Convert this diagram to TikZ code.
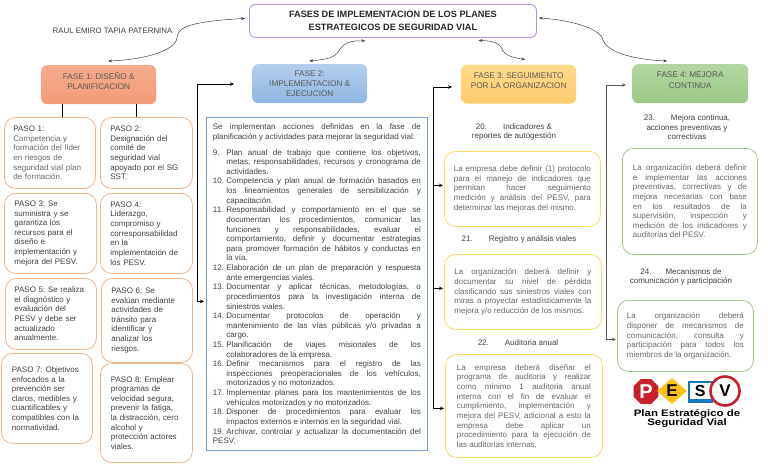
\documentclass[tikz,border=0pt]{standalone}
\usepackage{fontspec}
\setmainfont{Liberation Sans}
\newfontfamily\logofont[FakeStretch=1.22]{Liberation Sans}
\usetikzlibrary{arrows.meta,shapes.geometric}
\definecolor{titleline}{HTML}{B98FE0}
\definecolor{pasoline}{HTML}{F2B48A}
\definecolor{listline}{HTML}{7C9CCB}
\definecolor{amberline}{HTML}{FFD966}
\definecolor{greenline}{HTML}{9CCB86}
\definecolor{bodygray}{HTML}{404040}
\definecolor{softgray}{HTML}{666666}
\definecolor{railgray}{HTML}{595959}
\definecolor{signred}{HTML}{C8202A}
\definecolor{signyellow}{HTML}{FFC20E}
\definecolor{signblue}{HTML}{1277BE}
\definecolor{faseAtop}{HTML}{F5AC8C}
\definecolor{faseAbot}{HTML}{F39B78}
\definecolor{faseBtop}{HTML}{B4CFEE}
\definecolor{faseBbot}{HTML}{8FB6E2}
\definecolor{faseCtop}{HTML}{FFDA8C}
\definecolor{faseCbot}{HTML}{FFCB6B}
\definecolor{faseDtop}{HTML}{B2D6A0}
\definecolor{faseDbot}{HTML}{9CC987}
\sloppy
\frenchspacing
\hyphenpenalty=10000
\tikzset{
  txt/.style={font=\fontsize{8}{9.62}\selectfont,inner sep=0pt},
  fasebox/.style={anchor=north west,rounded corners=6pt,minimum width=115pt,minimum height=39pt,
    inner sep=0pt,align=center,text=railgray,font=\fontsize{8.2}{10.4}\selectfont},
  cardbox/.style n args={3}{txt,draw,anchor=north west,line width=0.8pt,rounded corners=11pt,
    minimum width=#1pt,minimum height=#2pt,text width=#3pt},
  pasobox/.style={draw=pasoline,text=bodygray,align=left},
  ambox/.style={draw=amberline,text=softgray,align=justify},
  grbox/.style={draw=greenline,text=softgray,align=justify},
  headtxt/.style={txt,align=center,text=bodygray},
  swing/.style={black!75,line width=0.5pt,{Stealth[length=4pt,width=3pt]}-{Stealth[length=4pt,width=3pt]}},
  rail/.style={line width=1pt,-{Stealth[length=4pt,width=3.5pt]}},
}
\newcommand{\numitem}[2]{\par\hangindent=13.5pt\hangafter=1\noindent\makebox[13.5pt][l]{#1}#2}
\begin{document}
\begin{tikzpicture}[x=1pt,y=-1pt]
  \useasboundingbox (0,0) rectangle (768,466);
  % title and phases
  \node[draw=titleline,line width=0.9pt,rounded corners=6pt,anchor=north west,minimum width=287pt,
    minimum height=33pt,inner sep=0pt,align=center,font=\fontsize{9.2}{12.3}\selectfont\bfseries,text=black!85]
    (title) at (249,4) {FASES DE IMPLEMENTACION DE LOS PLANES\\ESTRATEGICOS DE SEGURIDAD VIAL};
  \node[txt,text=bodygray,font=\fontsize{7.9}{9}\selectfont] (autor) at (112.5,31) {RAUL EMIRO TAPIA PATERNINA};
  \node[fasebox,top color=faseAtop,bottom color=faseAbot] (fase1) at (41,65) {FASE 1: DISEÑO \&\\PLANIFICACION\\[-3pt]~};
  \node[fasebox,top color=faseBtop,bottom color=faseBbot] (fase2) at (252,64) {FASE 2:\\IMPLEMENTACION \&\\EJECUCION};
  \node[fasebox,top color=faseCtop,bottom color=faseCbot] (fase3) at (461,64.5) {FASE 3: SEGUIMIENTO\\POR LA ORGANIZACION\\[-3pt]~};
  \node[fasebox,top color=faseDtop,bottom color=faseDbot,minimum width=116pt] (fase4) at (632,64) {FASE 4: MEJORA\\CONTINUA\\[-3pt]~};
  % steps of phase 1
  \node[cardbox={91}{71}{73},pasobox,text=softgray] (paso1) at (4,117) {\textcolor{bodygray}{PASO 1:}\\Competencia y\\formación del líder\\en riesgos de\\seguridad vial plan\\de formación.};
  \node[cardbox={92}{71}{72},pasobox] (paso2) at (100,117) {PASO 2:\\Designación del\\comité de\\seguridad vial\\apoyado por el SG\\SST.};
  \node[cardbox={92}{80}{72},pasobox] (paso3) at (4,193) {PASO 3: Se\\suministra y se\\garantiza los\\recursos para el\\diseño e\\implementación y\\mejora del PESV.};
  \node[cardbox={92}{80}{72},pasobox] (paso4) at (100,193) {PASO 4:\\Liderazgo,\\compromiso y\\corresponsabilidad\\en la\\implementación de\\los PESV.};
  \node[cardbox={91}{71}{73},pasobox] (paso5) at (5,278) {PASO 5: Se realiza\\el diagnóstico y\\evaluación del\\PESV y debe ser\\actualizado\\anualmente.};
  \node[cardbox={91}{84}{71},pasobox] (paso6) at (101,278) {PASO 6: Se\\evalúan mediante\\actividades de\\tránsito para\\identificar y\\analizar los\\riesgos.};
  \node[cardbox={91}{90}{70},pasobox] (paso7) at (1,353) {PASO 7: Objetivos\\enfocados a la\\prevención ser\\claros, medibles y\\cuantificables y\\compatibles con la\\normatividad.};
  \node[cardbox={92}{99}{71},pasobox] (paso8) at (100,363) {PASO 8: Emplear\\programas de\\velocidad segura,\\prevenir la fatiga,\\la distracción, cero\\alcohol y\\protección actores\\viales.};
  % actions of phase 2
  \node[cardbox={221}{333}{208},draw=listline,rounded corners=0pt,text=bodygray,align=justify] (acciones) at (206,117) {%
    Se implementan acciones definidas en la fase de\linebreak planificación y actividades para mejorar la seguridad vial:\par\vspace{6pt}
    \numitem{9.}{Plan anual de trabajo que contiene los objetivos,\linebreak metas, responsabilidades, recursos y cronograma de\linebreak actividades.}
    \numitem{10.}{Competencia y plan anual de formación basados en\linebreak los lineamientos generales de sensibilización y\linebreak capacitación.}
    \numitem{11.}{Responsabilidad y comportamiento en el que se\linebreak documentan los procedimientos, comunicar las\linebreak funciones y responsabilidades, evaluar el\linebreak comportamiento, definir y documentar estrategias\linebreak para promover formación de hábitos y conductas en\linebreak la vía.}
    \numitem{12.}{Elaboración de un plan de preparación y respuesta\linebreak ante emergencias viales.}
    \numitem{13.}{Documentar y aplicar técnicas, metodologías, o\linebreak procedimientos para la investigación interna de\linebreak siniestros viales.}
    \numitem{14.}{Documentar protocolos de operación y\linebreak mantenimiento de las vías públicas y/o privadas a\linebreak cargo.}
    \numitem{15.}{Planificación de viajes misionales de los\linebreak colaboradores de la empresa.}
    \numitem{16.}{Definir mecanismos para el registro de las\linebreak inspecciones preoperacionales de los vehículos,\linebreak motorizados y no motorizados.}
    \numitem{17.}{Implementar planes para los mantenimientos de los\linebreak vehículos motorizados y no motorizados.}
    \numitem{18.}{Disponer de procedimientos para evaluar los\linebreak \mbox{impactos externos e internos en la seguridad vial.}}
    \numitem{19.}{Archivar, controlar y actualizar la documentación del\linebreak PESV.}};
  % follow-up of phase 3
  \node[headtxt] (head20) at (514,132) {20.\hspace{16pt}Indicadores \&\\reportes de autogestión};
  \node[cardbox={156}{75}{137},ambox] (caja20) at (444,151) {La empresa debe definir (1) protocolo\linebreak para el manejo de indicadores que\linebreak permitan hacer seguimiento\linebreak medición y análisis del PESV, para\linebreak determinar las mejoras del mismo.};
  \node[headtxt] (head21) at (519,239) {21.\hspace{16pt}Registro y análisis viales};
  \node[cardbox={157}{75}{137},ambox] (caja21) at (444,254) {La organización deberá definir y\linebreak documentar su nivel de pérdida\linebreak clasificando sus siniestros viales con\linebreak miras a proyectar estadísticamente la\linebreak mejora y/o reducción de los mismos.};
  \node[headtxt] (head22) at (518,343) {22.\hspace{16pt}Auditoria anual};
  \node[cardbox={157}{103}{134},ambox] (caja22) at (445,354) {La empresa deberá diseñar el\linebreak programa de auditoria y realizar\linebreak como mínimo 1 auditoria anual\linebreak interna con el fin de evaluar el\linebreak cumplimiento, implementación y\linebreak mejora del PESV, adicional a esto la\linebreak empresa debe aplicar un\linebreak procedimiento para la ejecución de\linebreak las auditorias internas.};
  % improvement of phase 4
  \node[headtxt] (head23) at (687,127.5) {23.\hspace{16pt}Mejora continua,\\acciones preventivas y\\correctivas};
  \node[cardbox={135}{106}{114},grbox] (caja23) at (622,148) {La organización deberá definir\linebreak e implementar las acciones\linebreak preventivas, correctivas y de\linebreak mejora necesarias con base\linebreak en los resultados de la\linebreak supervisión, inspección y\linebreak medición de los indicadores y\linebreak auditorias del PESV.};
  \node[headtxt] (head24) at (681,277) {24.\hspace{14pt}Mecanismos de\\comunicación y participación};
  \node[cardbox={136}{71}{117},grbox] (caja24) at (617,300) {La organización deberá\linebreak disponer de mecanismos de\linebreak comunicación, consulta y\linebreak participación para todos los\linebreak miembros de la organización.};
  % swinging arrows from the title
  \draw[swing] ([shift={(-4,-2.5)}]title.west) .. controls (180,22) and (178,30) .. (177,38)
    .. controls (175,52) and (140,60) .. ([shift={(9.5,-4)}]fase1.north);
  \draw[swing] ([shift={(-27.5,3)}]title.south) .. controls (340,40) and (342,50) .. (335,55)
    .. controls (330,59) and (320,60) .. ([shift={(-0.5,-3)}]fase2.north);
  \draw[swing] ([shift={(85.5,2.5)}]title.south) .. controls (500,41) and (501,47) .. (503,51)
    .. controls (506,56) and (515,58) .. ([shift={(6.5,-5)}]fase3.north);
  \draw[swing] ([shift={(2,-3)}]title.east) .. controls (570,20) and (600,28) .. (603,40)
    .. controls (608,54) and (640,60) .. ([shift={(-23,-3)}]fase4.north);
  % connectors
  \draw[line width=1pt] ([xshift=-36.5pt]fase1.south) -- ([xshift=-36.5pt,yshift=-13pt]fase1.south)
    ([xshift=37.5pt]fase1.south) -- ([xshift=37.5pt,yshift=-13pt]fase1.south);
  \coordinate (railB) at (197,84);
  \coordinate (railC) at (433,87);
  \coordinate (railD) at (606.5,85);
  \draw[rail] (railB) -- ([xshift=-18pt]fase2.west |- railB);
  \draw[rail] (railB) |- ([shift={(-2,17.5)}]acciones.west);
  \draw[rail] (railC) -- ([xshift=-9pt]fase3.west |- railC);
  \draw[rail] (railC) |- ([xshift=-1pt,yshift=3.5pt]caja20.west);
  \draw[rail] (railC) |- ([xshift=-1pt,yshift=3.5pt]caja21.west);
  \draw[rail] (railC) |- ([xshift=-1pt,yshift=-2.5pt]caja22.west);
  \draw[rail,railgray] (railD) -- ([xshift=-6pt]fase4.west |- railD);
  \draw[rail,railgray] (railD) |- ([xshift=-1pt,yshift=-3.5pt]caja24.west);
  % logo
  \node[regular polygon,regular polygon sides=8,fill=signred,minimum size=27pt,inner sep=0pt,
    text=white,font=\fontsize{20}{20}\selectfont\bfseries] (logoP) at (646,391.5) {P};
  \node[diamond,fill=signyellow,minimum width=30pt,minimum height=26pt,inner sep=0pt,
    font=\fontsize{17}{17}\selectfont\bfseries] (logoE) at (672,391) {E};
  \node[draw=signblue,line width=1.6pt,fill=white,minimum width=23pt,minimum height=20pt,inner sep=0pt,
    anchor=north west,font=\fontsize{16}{16}\selectfont\bfseries] (logoS) at (688,381) {\raisebox{2pt}{S}};
  \fill[signblue] (logoS.south west) rectangle ([yshift=4pt]logoS.south east);
  \node[circle,draw=signred,line width=2.6pt,fill=white,minimum size=29pt,inner sep=0pt,
    font=\fontsize{17}{17}\selectfont\bfseries] (logoV) at (725,391) {V};
  \node[inner sep=0pt,align=center,font=\logofont\fontsize{9.4}{9.4}\selectfont\bfseries] (logotxt) at (687,418.5)
    {Plan Estratégico de\\Seguridad Vial};
\end{tikzpicture}
\end{document}
